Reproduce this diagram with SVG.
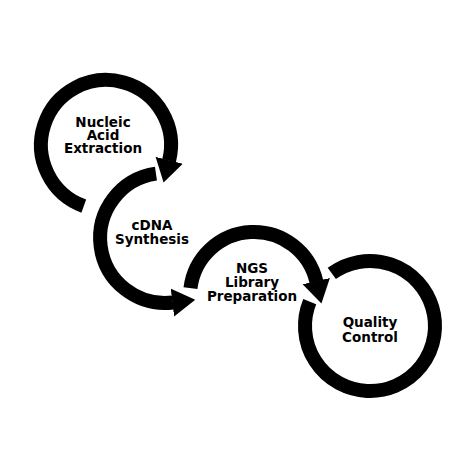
<svg xmlns="http://www.w3.org/2000/svg" width="474" height="474" viewBox="0 0 474 474">
  <style>
    .arc { fill: none; stroke: #000; stroke-width: 14; stroke-linecap: butt; }
    .lbl { font-family: "DejaVu Sans", "Liberation Sans", sans-serif; font-weight: 700; font-size: 13.5px; fill: #000; text-anchor: middle; }
  </style>
  <defs>
    <marker id="head" viewBox="0 -15 24 30" markerWidth="24" markerHeight="30" refX="0.5" refY="0" orient="auto" markerUnits="userSpaceOnUse">
      <path d="M0,-14 L23,0 L0,14 Z" fill="#000"/>
    </marker>
  </defs>
  <rect width="474" height="474" fill="#fff"/>
  <g id="connectors">
    <path class="arc" d="M83.77,206.08 A65,65 0 1 1 169.07,160.73" marker-end="url(#head)"/>
    <path class="arc" d="M155.95,173.63 A65,65 0 0 0 172.92,302.51" marker-end="url(#head)"/>
    <path class="arc" d="M190.48,288.20 A64,64 0 0 1 316.36,281.60" marker-end="url(#head)"/>
    <path class="arc" d="M331.79,273.42 A65,65 0 1 1 309.73,301.65"/>
  </g>
  <g id="node-extraction">
    <text class="lbl" x="103" y="126.7">Nucleic</text>
    <text class="lbl" x="103" y="140">Acid</text>
    <text class="lbl" x="103" y="153.3">Extraction</text>
  </g>
  <g id="node-cdna">
    <text class="lbl" x="152" y="230">cDNA</text>
    <text class="lbl" x="152" y="244">Synthesis</text>
  </g>
  <g id="node-ngs">
    <text class="lbl" x="252" y="273.3">NGS</text>
    <text class="lbl" x="252" y="287.3">Library</text>
    <text class="lbl" x="252" y="300.7">Preparation</text>
  </g>
  <g id="node-qc">
    <text class="lbl" x="370" y="327.3">Quality</text>
    <text class="lbl" x="370" y="341.7">Control</text>
  </g>
</svg>
